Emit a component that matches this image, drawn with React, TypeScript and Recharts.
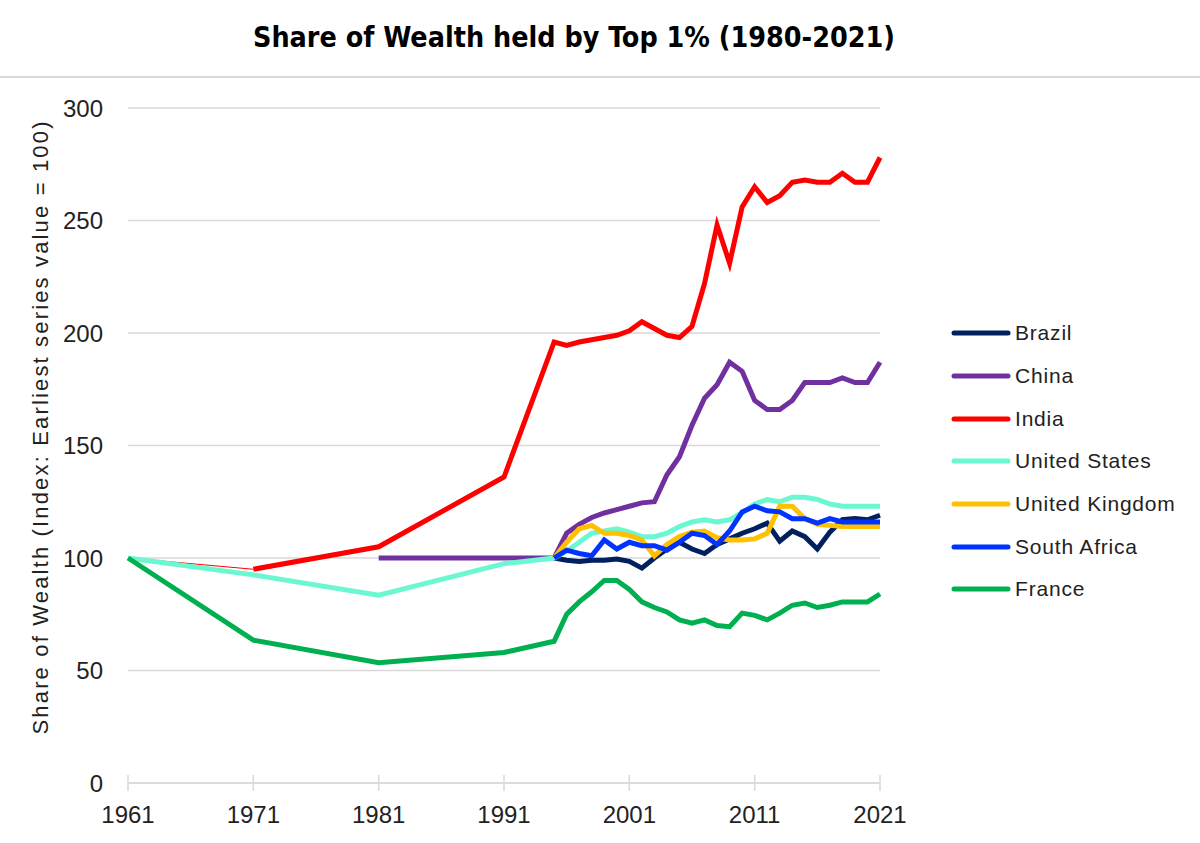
import { LineChart, Line, XAxis, YAxis, CartesianGrid, Legend, Label } from "recharts";

const years = [
  1961, 1971, 1981, 1991, 1995, 1996, 1997, 1998, 1999, 2000, 2001, 2002, 2003, 2004, 2005, 2006,
  2007, 2008, 2009, 2010, 2011, 2012, 2013, 2014, 2015, 2016, 2017, 2018, 2019, 2020, 2021,
];

const brazil = [
  null, null, null, null, 100, 99, 98.5, 99, 99, 99.5, 98.5, 95.5, 100, 104, 107, 104,
  102, 106, 108.5, 111, 113, 115.5, 107.5, 112, 109.5, 104, 111.5, 117, 117.5, 117, 119,
];
const china = [
  null, null, 100, 100, 100, 111, 115, 118, 120, 121.5, 123, 124.5, 125, 137, 145, 159,
  171, 177, 187, 183, 170, 166, 166, 170, 178, 178, 178, 180, 178, 178, 187,
];
const india = [
  100, 95, 105, 136, 196, 194.5, 196, 197, 198, 199, 201, 205, 202, 199, 198, 203,
  222, 248, 231, 256, 265, 258, 261, 267, 268, 267, 267, 271, 267, 267, 278,
];
const unitedStates = [
  100, 92.5, 83.5, 97.5, 100, 103, 107, 111, 112, 113, 111.5, 109.5, 109.5, 111, 114, 116,
  117, 116, 117, 120, 124, 126, 125, 127, 127, 126, 124, 123, 123, 123, 123,
];
const unitedKingdom = [
  null, null, null, null, 100, 107, 113, 114.5, 111, 111, 110, 108, 101, 106, 109.5, 111.5,
  112, 109, 108, 108, 108.5, 111, 123, 123, 117.5, 115, 114.5, 114, 114, 114, 114,
];
const southAfrica = [
  null, null, null, null, 100, 103.5, 102, 101, 108, 104, 107, 105.5, 105.5, 103.5, 107, 111,
  110, 106, 112, 120.5, 123, 121, 120.5, 117.5, 117.5, 115.5, 117.5, 116, 116, 116, 116,
];
const france = [
  100, 63.5, 53.5, 58, 63, 75, 80.5, 85, 90, 90, 86, 80.5, 78, 76, 72.5, 71,
  72.5, 70, 69.5, 75.5, 74.5, 72.5, 75.5, 79, 80, 78, 79, 80.5, 80.5, 80.5, 84,
];

const xTicks = [1961, 1971, 1981, 1991, 2001, 2011, 2021];
const yTicks = [0, 50, 100, 150, 200, 250, 300];

const series = [
  { key: "brazil", name: "Brazil", color: "#002060" },
  { key: "china", name: "China", color: "#7030A0" },
  { key: "india", name: "India", color: "#FF0000" },
  { key: "unitedStates", name: "United States", color: "#6BF7D2" },
  { key: "unitedKingdom", name: "United Kingdom", color: "#FFC000" },
  { key: "southAfrica", name: "South Africa", color: "#0033FF" },
  { key: "france", name: "France", color: "#00B050" },
];

// the first India segment (1961-1971) is drawn thin in the original
const rows = years.map((year, i) => ({
  year,
  brazil: brazil[i],
  china: china[i],
  indiaStart: i <= 1 ? india[i] : null,
  india: i >= 1 ? india[i] : null,
  unitedStates: unitedStates[i],
  unitedKingdom: unitedKingdom[i],
  southAfrica: southAfrica[i],
  france: france[i],
}));

const font = '"Liberation Sans", Arial, sans-serif';

const YearTick = ({ x, y, payload }: any) => (
  <g>
    <line x1={x} x2={x} y1={y - 8} y2={y + 8} stroke="#d9d9d9" strokeWidth={1.5} />
    <text x={x} y={y + 31} textAnchor="middle" dominantBaseline="central" fontSize={24} fill="#222" fontFamily={font}>
      {payload.value}
    </text>
  </g>
);

// legend keeps the series order of the original (not alphabetical)
const renderLegend = () => (
  <div style={{ display: "flex", flexDirection: "column", fontFamily: font }}>
    {series.map((s) => (
      <div key={s.key} style={{ display: "flex", alignItems: "center", height: 42.7 }}>
        <svg width={62} height={8}>
          <line x1={4} x2={58} y1={4} y2={4} stroke={s.color} strokeWidth={5} strokeLinecap="round" />
        </svg>
        <span style={{ marginLeft: 3, fontSize: 21, color: "#222", letterSpacing: 0.8 }}>{s.name}</span>
      </div>
    ))}
  </div>
);

export default function App() {
  return (
    <div style={{ position: "absolute", left: 0, top: 0, width: 1200, height: 843, background: "#fff" }}>
      <div
        style={{
          position: "absolute",
          left: 0,
          top: 21,
          width: 1148,
          textAlign: "center",
          fontFamily: '"Liberation Sans Narrow", "DejaVu Sans Condensed", sans-serif',
          fontWeight: "bold",
          fontSize: 28.4,
          color: "#000",
        }}
      >
        Share of Wealth held by Top 1% (1980-2021)
      </div>
      <div style={{ position: "absolute", left: 0, top: 76, width: 1200, height: 2, background: "#d9d9d9" }} />
      <div style={{ position: "absolute", left: 0, top: 0 }}>
        <LineChart width={1200} height={843} data={rows} margin={{ top: 108, right: 70, bottom: 0, left: 0 }}>
          <CartesianGrid vertical={false} stroke="#d9d9d9" strokeWidth={1.5} />
          <XAxis
            dataKey="year"
            type="number"
            domain={[1961, 2021]}
            ticks={xTicks}
            height={60}
            axisLine={{ stroke: "#d9d9d9", strokeWidth: 1.5 }}
            tickLine={false}
            tickSize={0}
            tickMargin={0}
            tick={<YearTick />}
          />
          <YAxis
            domain={[0, 300]}
            ticks={yTicks}
            width={128}
            axisLine={false}
            tickLine={false}
            tickSize={0}
            tickMargin={25}
            tick={{ fontSize: 24, fill: "#222", fontFamily: font }}
          >
            <Label
              content={({ viewBox }: any) => {
                const cx = viewBox.x + 40;
                const cy = viewBox.y + 320;
                return (
                  <text
                    x={cx}
                    y={cy}
                    transform={`rotate(-90 ${cx} ${cy})`}
                    textAnchor="middle"
                    dominantBaseline="central"
                    fontSize={22}
                    fill="#222"
                    fontFamily={font}
                    textLength={613}
                    lengthAdjust="spacing"
                  >
                    Share of Wealth (Index: Earliest series value = 100)
                  </text>
                );
              }}
            />
          </YAxis>
          <Legend
            layout="vertical"
            verticalAlign="top"
            align="right"
            content={renderLegend}
            wrapperStyle={{ left: 950, top: 312, width: 250 }}
          />
          <Line
            dataKey="indiaStart"
            stroke="#FF0000"
            strokeWidth={1.2}
            dot={false}
            activeDot={false}
            legendType="none"
            isAnimationActive={false}
          />
          {series.map((s) => (
            <Line
              key={s.key}
              dataKey={s.key}
              name={s.name}
              type="linear"
              stroke={s.color}
              strokeWidth={5}
              dot={false}
              activeDot={false}
              isAnimationActive={false}
            />
          ))}
        </LineChart>
      </div>
    </div>
  );
}
